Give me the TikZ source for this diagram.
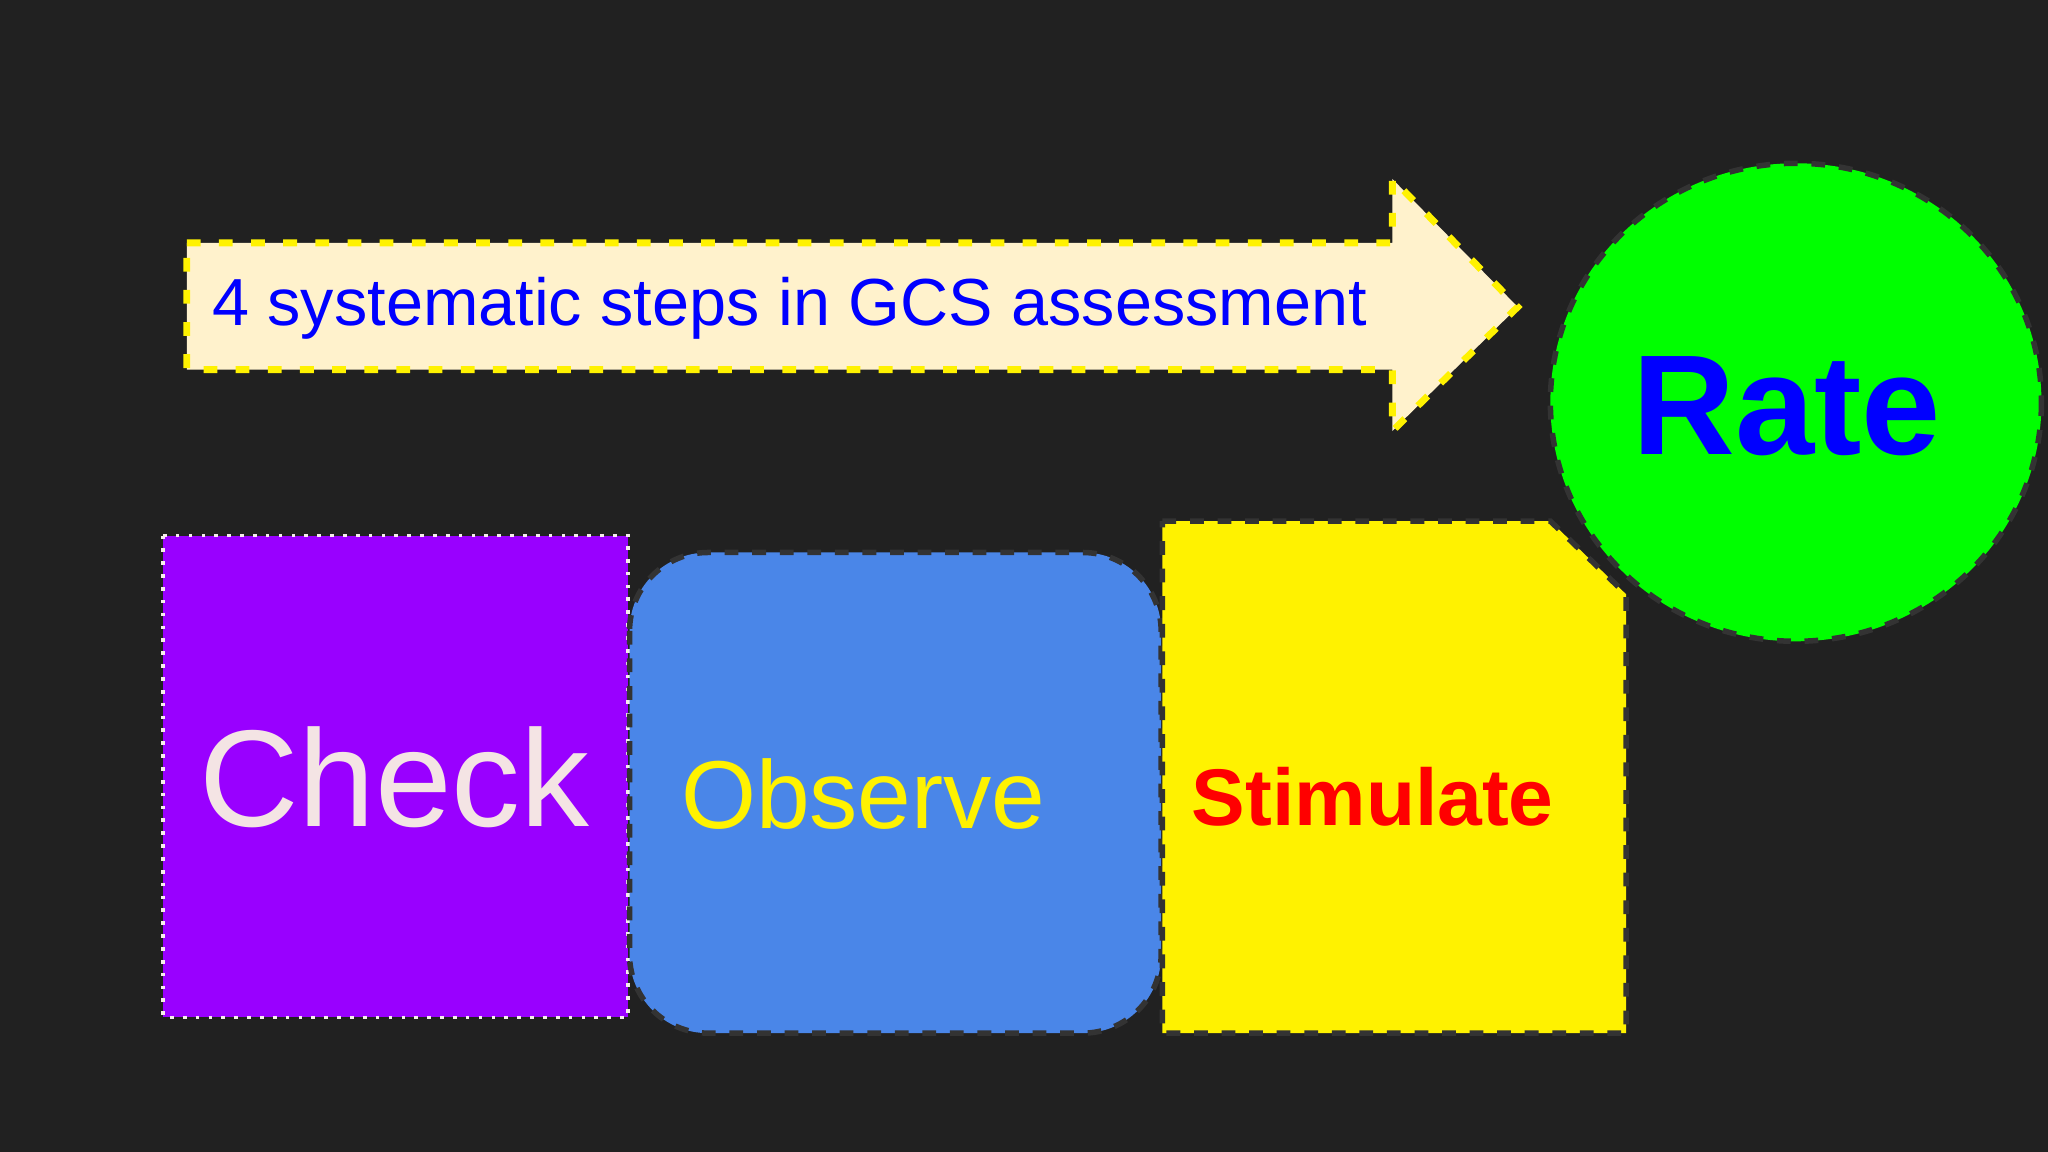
\documentclass[tikz,border=0pt]{standalone}
\usepackage{fontspec}
\setmainfont{Liberation Sans}
\definecolor{bg}{HTML}{212121}
\definecolor{cream}{HTML}{FFF2CC}
\definecolor{purp}{HTML}{9900FF}
\definecolor{obs}{HTML}{4A86E8}
\definecolor{pinkw}{HTML}{F4E4E4}
\definecolor{bord}{HTML}{333333}
\begin{document}
\begin{tikzpicture}[x=0.01cm,y=-0.01cm,
  darkdash/.style={draw=bord,line width=1.2pt,dash pattern=on 3pt off 3pt}]
\fill[bg] (0,0) rectangle (1568,882);
\useasboundingbox (0,0) rectangle (1568,882);
% arrow
\draw[fill=cream,draw=yellow,line width=1.5pt,dash pattern=on 3pt off 4pt]
  (143,186) -- (1066,186) -- (1066,137) -- (1162,235) -- (1066,330) -- (1066,283) -- (143,283) -- cycle;
\node[anchor=west,text=blue,font=\fontsize{14.5}{17}\selectfont] (title) at (150,236) {4 systematic steps in GCS assessment};
% Rate
\draw[darkdash,fill=green] (1375,308) ellipse (188 and 183);
\node[text=blue,font=\fontsize{31}{36}\selectfont\bfseries] (rate) at (1368,311) {Rate};
% Check
\draw[fill=purp,draw=pinkw!70,line width=0.8pt,dotted] (125,410) rectangle (481,779);
\node[text=pinkw,font=\fontsize{30}{36}\selectfont,anchor=base west] (check) at (140,633) {Check};
% Observe
\draw[darkdash,fill=obs,rounded corners=0.6cm] (482,423) rectangle (889,791);
\node[text=yellow,font=\fontsize{21}{26}\selectfont,anchor=base] (observe) at (661,634) {Observe};
% Stimulate
\draw[darkdash,fill=yellow] (890,399) -- (1187,399) -- (1245,455) -- (1245,791) -- (890,791) -- cycle;
\node[text=red,font=\fontsize{17.5}{22}\selectfont\bfseries,anchor=base] (stim) at (1051,632) {Stimulate};
\end{tikzpicture}
\end{document}
